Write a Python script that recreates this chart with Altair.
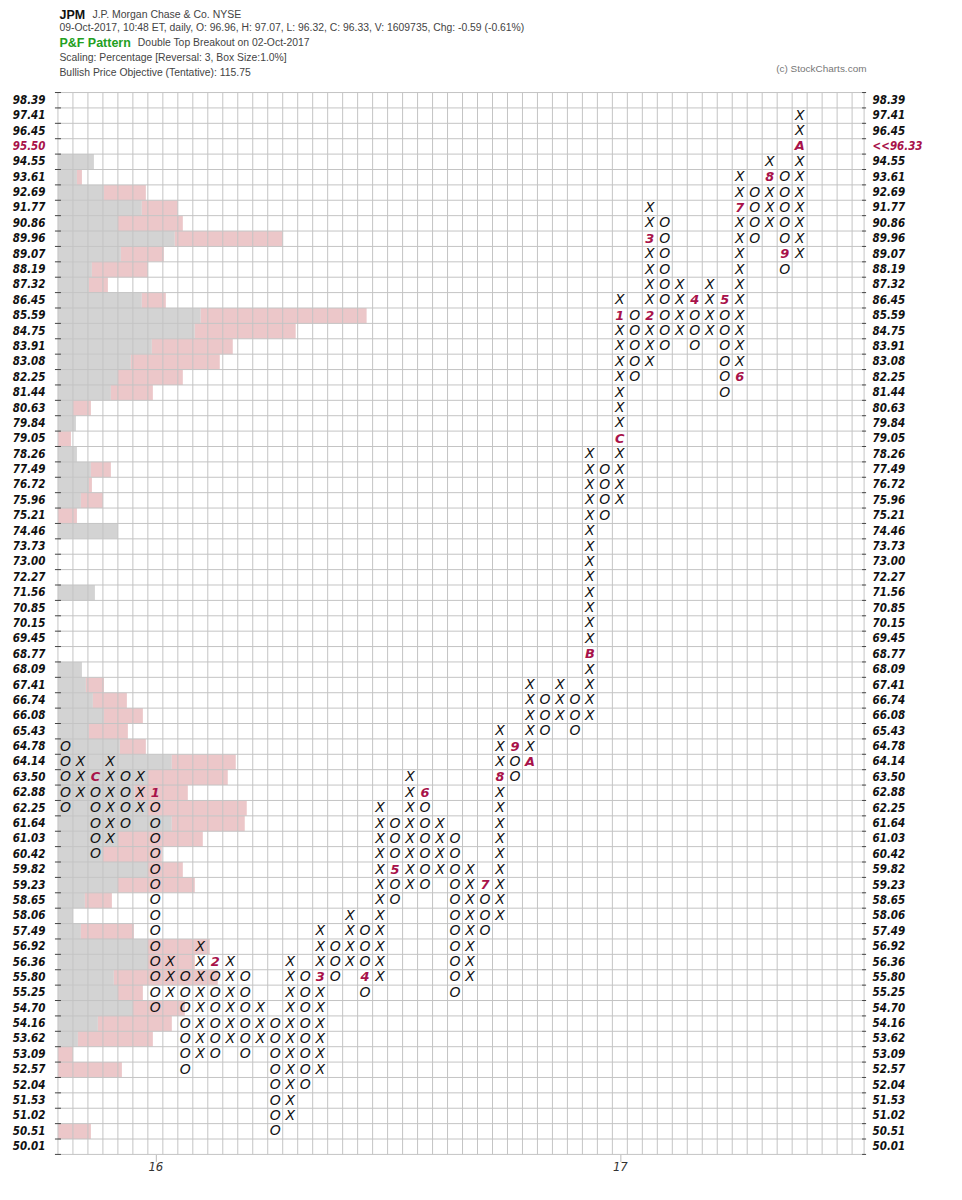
import altair as alt
import pandas as pd

# ---------------- data ----------------
prices = ["98.39", "97.41", "96.45", "95.50", "94.55", "93.61", "92.69", "91.77", "90.86", "89.96",
          "89.07", "88.19", "87.32", "86.45", "85.59", "84.75", "83.91", "83.08", "82.25", "81.44",
          "80.63", "79.84", "79.05", "78.26", "77.49", "76.72", "75.96", "75.21", "74.46", "73.73",
          "73.00", "72.27", "71.56", "70.85", "70.15", "69.45", "68.77", "68.09", "67.41", "66.74",
          "66.08", "65.43", "64.78", "64.14", "63.50", "62.88", "62.25", "61.64", "61.03", "60.42",
          "59.82", "59.23", "58.65", "58.06", "57.49", "56.92", "56.36", "55.80", "55.25", "54.70",
          "54.16", "53.62", "53.09", "52.57", "52.04", "51.53", "51.02", "50.51", "50.01"]

# volume-by-price (relative units), one value per price box, top to bottom
vol_gray = [0, 0, 0, 0, 36, 19, 46, 84, 60, 117, 63, 34, 31, 84, 143, 137, 94, 73, 60, 53,
            15, 18, 0, 19, 33, 31, 23, 0, 60, 0, 0, 0, 37, 0, 0, 0, 0, 24, 28, 35,
            46, 31, 62, 114, 90, 77, 90, 114, 60, 45, 90, 60, 27, 15, 23, 90, 90, 56, 60, 75,
            40, 20, 0, 0, 0, 0, 0, 0, 0]
vol_total = [0, 0, 0, 0, 36, 24, 88, 120, 125, 225, 106, 90, 50, 108, 309, 238, 175, 162, 125, 95,
             33, 18, 13, 19, 53, 34, 45, 19, 60, 0, 0, 0, 37, 0, 0, 0, 0, 24, 46, 69,
             85, 70, 88, 178, 170, 130, 189, 187, 145, 104, 125, 137, 54, 15, 76, 152, 137, 160, 85, 127,
             114, 95, 15, 64, 0, 0, 0, 33, 0]

# point & figure columns
col_kind = ["O", "X"] * 25
col_high = ["64.78", "64.14", "63.50", "64.14", "63.50", "63.50", "62.88", "56.36", "55.80", "56.92",
            "56.36", "56.36", "55.80", "54.70", "54.16", "56.36", "55.80", "57.49", "56.92", "58.06",
            "57.49", "62.25", "61.64", "63.50", "62.88", "61.64", "61.03", "59.82", "59.23", "65.43",
            "64.78", "67.41", "66.74", "67.41", "66.74", "78.26", "77.49", "86.45", "85.59", "91.77",
            "90.86", "87.32", "86.45", "87.32", "86.45", "93.61", "92.69", "94.55", "93.61", "97.41"]
col_low = ["62.25", "62.88", "60.42", "61.03", "61.64", "62.25", "54.70", "55.25", "52.57", "53.09",
           "53.09", "53.62", "53.09", "53.62", "50.51", "51.02", "52.04", "52.57", "55.80", "56.36",
           "55.25", "55.80", "58.65", "59.23", "59.23", "59.82", "55.25", "55.80", "57.49", "58.06",
           "63.50", "64.14", "65.43", "66.08", "65.43", "66.08", "75.21", "75.96", "82.25", "83.08",
           "83.91", "84.75", "83.91", "84.75", "81.44", "82.25", "89.96", "90.86", "88.19", "89.07"]

# month markers
month_col = [2, 6, 10, 17, 20, 22, 24, 28, 29, 30, 31, 35, 37, 37, 39, 39, 42, 44, 45, 45, 47, 48, 49]
month_price = ["63.50", "62.88", "56.36", "55.80", "55.80", "59.82", "62.88", "59.23", "63.50", "64.78",
               "64.14", "68.77", "79.05", "85.59", "85.59", "89.96", "86.45", "86.45", "82.25", "91.77",
               "93.61", "89.07", "95.50"]
month_label = ["C", "1", "2", "3", "4", "5", "6", "7", "8", "9", "A", "B", "C", "1", "2", "3", "4", "5",
               "6", "7", "8", "9", "A"]

year_cols = [6, 37]
year_labels = ["16", "17"]

current_box = "95.50"
last_close_label = "<<96.33"

# ---------------- derived tables ----------------
row_of = {p: i for i, p in enumerate(prices)}
marker = {(c, row_of[p]): l for c, p, l in zip(month_col, month_price, month_label)}
cells = []
for c, (k, hi, lo) in enumerate(zip(col_kind, col_high, col_low)):
    for r in range(row_of[hi], row_of[lo] + 1):
        lab = marker.get((c, r))
        cells.append({"c": c, "r": r, "t": lab if lab else k, "m": lab is not None})
cells = pd.DataFrame(cells)
plain = cells[~cells["m"]]
marks = cells[cells["m"]]

vol = pd.DataFrame({"r": list(range(len(prices))), "gray": vol_gray, "total": vol_total})

N_GRID_COLS = 54
X_DOM = [-0.5, 53.3]
Y_DOM = [-0.5, len(prices) - 0.5]
vlines = pd.DataFrame({"x": [k - 0.5 for k in range(N_GRID_COLS)] + [X_DOM[1]]})
hlines = pd.DataFrame({"y": [k - 0.5 for k in range(len(prices) + 1)]})

W, H = 807, 1063
RED = "#a8124a"
LFONT = "DejaVu Sans Condensed, DejaVu Sans"
MFONT = "DejaVu Sans"
HFONT = "Liberation Sans, Arial"

xs = alt.Scale(domain=X_DOM, nice=False, zero=False)
ys = alt.Scale(domain=Y_DOM, nice=False, zero=False, reverse=True)
VOL_DOM = [0, 807]
vs = alt.Scale(domain=VOL_DOM, nice=False, zero=False)

cur_idx = row_of[current_box]
left_js = "[" + ",".join(f"'{p}'" for p in prices) + "]"
right_list = [last_close_label if p == current_box else p for p in prices]
right_js = "[" + ",".join(f"'{p}'" for p in right_list) + "]"
year_js = "{" + ",".join(f"'{c}':'{l}'" for c, l in zip(year_cols, year_labels)) + "}"

label_color = {"condition": {"test": f"datum.value == {cur_idx}", "value": RED}, "value": "#111111"}


def price_axis(orient, js, pad, align):
    return alt.Axis(orient=orient, values=list(range(len(prices))), labelExpr=f"{js}[datum.value]",
                    domain=False, ticks=False, tickSize=0, grid=False, labelAlign=align,
                    labelPadding=pad, labelFont=LFONT, labelFontSize=11.5, labelFontWeight="bold",
                    labelFontStyle="italic", labelColor=label_color, labelOverlap=False,
                    labelBaseline="middle")


bottom_axis = alt.Axis(values=year_cols, labelExpr=f"{year_js}[datum.value]", domain=False,
                       ticks=True, tickSize=7, tickColor="#bbbbbb", labelPadding=-1, grid=False,
                       labelFont=LFONT, labelFontStyle="italic", labelFontSize=13, labelColor="#333333",
                       labelFlush=False, labelOverlap=False)

# volume by price bars
gray_bars = alt.Chart(vol).transform_calculate(
    y0="datum.r - 0.5", y1="datum.r + 0.5", v0="0"
).mark_rect(color="#d3d3d3").encode(
    x=alt.X("v0:Q", scale=vs, axis=None),
    x2="gray:Q",
    y=alt.Y("y0:Q", scale=ys, title=None, axis=price_axis("right", right_js, 8, "left")),
    y2="y1:Q",
)
pink_bars = alt.Chart(vol).transform_filter("datum.total > datum.gray").transform_calculate(
    y0="datum.r - 0.5", y1="datum.r + 0.5"
).mark_rect(color="#ecc7c9").encode(
    x=alt.X("gray:Q", scale=vs, axis=None),
    x2="total:Q",
    y=alt.Y("y0:Q", scale=ys, axis=None),
    y2="y1:Q",
)

grid_v = alt.Chart(vlines).mark_rule(color="#c4c4c4", strokeWidth=1).encode(
    x=alt.X("x:Q", scale=xs, axis=None))
grid_h = alt.Chart(hlines).mark_rule(color="#c4c4c4", strokeWidth=1).encode(
    y=alt.Y("y:Q", scale=ys, axis=None))

# small edge ticks at the box boundaries (left and right frame)
edge_left = alt.Chart(hlines).mark_rule(color="#444444", strokeWidth=1).encode(
    y=alt.Y("y:Q", scale=ys, axis=None), x=alt.value(-3), x2=alt.value(3))
edge_right = alt.Chart(hlines).mark_rule(color="#444444", strokeWidth=1).encode(
    y=alt.Y("y:Q", scale=ys, axis=None), x=alt.value(W - 2), x2=alt.value(W + 2))

xo = alt.Chart(plain).mark_text(font=MFONT, fontSize=14, fontStyle="italic", color="#111111",
                                baseline="middle", align="center").encode(
    x=alt.X("c:Q", scale=xs, title=None, axis=bottom_axis),
    y=alt.Y("r:Q", scale=ys, title=None, axis=price_axis("left", left_js, 13, "right")),
    text="t:N",
)
months = alt.Chart(marks).mark_text(font=MFONT, fontSize=13, fontStyle="italic", fontWeight="bold",
                                    color=RED, baseline="middle", align="center").encode(
    x=alt.X("c:Q", scale=xs, axis=None),
    y=alt.Y("r:Q", scale=ys, axis=None),
    text="t:N",
)

one = pd.DataFrame({"a": [0]})


def head(text, x, y, size, color, weight="normal", font=HFONT):
    return alt.Chart(one).mark_text(text=text, align="left", baseline="middle", fontSize=size,
                                    color=color, fontWeight=weight, font=font).encode(
        x=alt.value(x), y=alt.value(y))


GRAY_TXT = "#444444"
header = [
    head("JPM", 1.5, -77.5, 12.5, "#111111", "bold"),
    head("J.P. Morgan Chase & Co.", 34.5, -77.5, 10.5, GRAY_TXT),
    head("NYSE", 155, -77.5, 10.5, GRAY_TXT),
    head("09-Oct-2017, 10:48 ET, daily, O: 96.96, H: 97.07, L: 96.32, C: 96.33, V: 1609735, Chg: -0.59 (-0.61%)",
         1.5, -65, 10.4, GRAY_TXT),
    head("P&F Pattern", 1.5, -50, 12.5, "#22a022", "bold"),
    head("Double Top Breakout on 02-Oct-2017", 80, -50, 10.4, GRAY_TXT),
    head("Scaling: Percentage [Reversal: 3, Box Size:1.0%]", 1.5, -35, 10.4, GRAY_TXT),
    head("Bullish Price Objective (Tentative): 115.75", 1.5, -20, 10.4, GRAY_TXT),
    head("(c) StockCharts.com", 719, -24, 10, "#777777"),
]

chart = alt.layer(gray_bars, pink_bars, grid_v, grid_h, edge_left, edge_right, xo, months,
                  *header).resolve_scale(
    x="independent", y="independent"
).properties(
    width=W, height=H,
    autosize=alt.AutoSizeParams(type="none"),
    padding={"left": 50, "top": 84, "right": 90, "bottom": 40},
).configure_view(stroke=None)

chart.save("out.html", embed_options={"renderer": "svg", "actions": False})
